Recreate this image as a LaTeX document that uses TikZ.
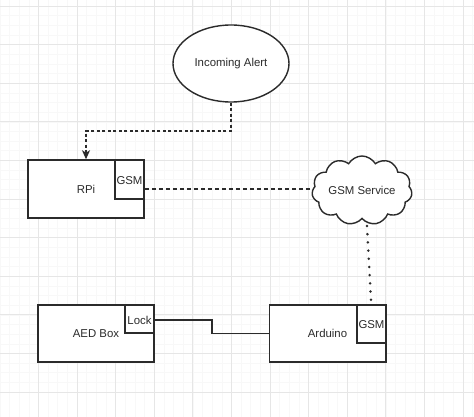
\documentclass[tikz,border=0pt]{standalone}
\usepackage{fontspec}
\setmainfont{Liberation Sans}
\usetikzlibrary{shapes.geometric,shapes.symbols,arrows.meta,calc}
\definecolor{gridmaj}{HTML}{E6E6E6}
\definecolor{gridmin}{HTML}{F8F8F8}
\definecolor{ink}{HTML}{2B2B2B}
\begin{document}
\begin{tikzpicture}[x=1pt,y=-1pt,
  every node/.style={font=\fontsize{11.4}{13}\selectfont, text=ink},
  box/.style={draw=ink, line width=1.5pt, rectangle, inner sep=0pt},
  subbox/.style={draw=ink, line width=1.5pt, rectangle, inner sep=0pt, anchor=north east},
  dotarrow/.style={draw=ink, line width=1.4pt, dash pattern=on 3pt off 2.5pt},
  dashline/.style={draw=ink, line width=1.2pt, dash pattern=on 4pt off 3pt},
  dotline/.style={draw=ink, line width=2.8pt, line cap=round, dash pattern=on 0pt off 8.2pt},
  wire/.style={draw=ink, line width=1.4pt}
]
\useasboundingbox (0,0) rectangle (474,417);
\fill[white] (0,0) rectangle (474,417);
% minor grid
\foreach \i in {0,...,49} {
  \draw[gridmin, line width=0.5pt] ({-0.2+\i*9.65},0) -- ({-0.2+\i*9.65},417);
}
\foreach \j in {0,...,44} {
  \draw[gridmin, line width=0.5pt] (0,{6+\j*9.65-38.6}) -- (474,{6+\j*9.65-38.6});
}
% major grid
\foreach \i in {0,...,12} {
  \draw[gridmaj, line width=0.8pt] ({-0.2+\i*38.6},0) -- ({-0.2+\i*38.6},417);
}
\foreach \j in {0,...,10} {
  \draw[gridmaj, line width=0.8pt] (0,{6+\j*38.6}) -- (474,{6+\j*38.6});
}

% Incoming Alert
\node[ellipse, draw=ink, line width=1.4pt, fill=white, minimum width=116pt, minimum height=77pt, inner sep=0pt] (inc) at (231,63.5) {Incoming Alert};

% RPi
\node[box, fill=white, minimum width=116pt, minimum height=58pt] (rpi) at (86,189) {RPi};
\node[subbox, minimum width=29pt, minimum height=39pt] (rgsm) at (rpi.north east) {};
\node (rgsmt) at (129.5,181) {GSM};

% Cloud
\node[cloud, cloud puffs=11, cloud puff arc=120, aspect=1.7, draw=ink, line width=1.4pt, fill=white, minimum width=100pt, minimum height=62pt, inner sep=0pt] (cloud) at (362,190.5) {GSM Service};

% AED Box
\node[box, fill=white, minimum width=116pt, minimum height=57pt] (aed) at (96,333.5) {AED Box};
\node[subbox, minimum width=29pt, minimum height=28pt] (lock) at (aed.north east) {};
\node (lockt) at (139.5,320) {Lock};

% Arduino
\node[box, fill=white, minimum width=116.5pt, minimum height=57pt] (ard) at (327.5,333.5) {Arduino};
\node[subbox, minimum width=29pt, minimum height=38pt] (agsm) at (ard.north east) {};
\node (agsmt) at (371.5,325) {GSM};

% connectors
\coordinate (bend) at (231,131);
\draw[dotarrow, -{Stealth[length=9pt,width=8pt,inset=2.5pt]}] (inc.south) -- (bend) -| (rpi.north);
\draw[dashline] (rpi.east) -- (rpi.east -| cloud.west);
\coordinate (cs) at (367,226);
\draw[dotline] (cs) -- (agsm.north);
\coordinate (wb) at (212,320);
\draw[wire] (lock.east |- lockt) -- (wb) |- (ard.west);
\end{tikzpicture}
\end{document}
